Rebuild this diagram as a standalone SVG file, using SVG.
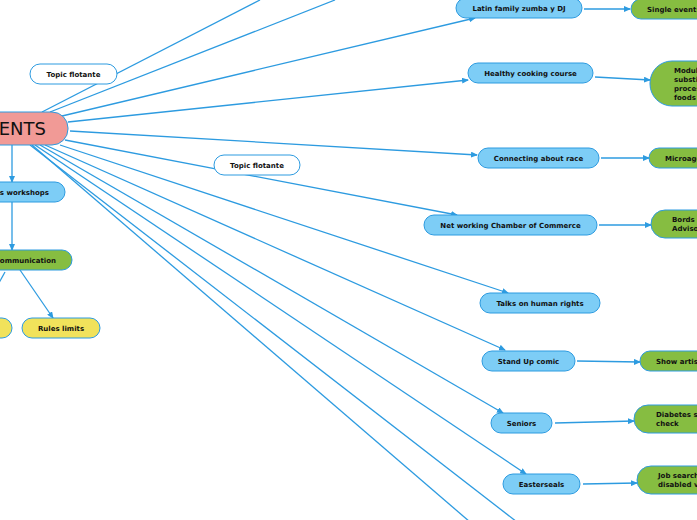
<svg xmlns="http://www.w3.org/2000/svg" width="697" height="520" viewBox="0 0 697 520">
<style>
text{font-family:"DejaVu Sans",sans-serif;font-size:7px;font-weight:bold;fill:#111;}
.b{fill:#7dcdf6;stroke:#2d9be0;stroke-width:1}
.g{fill:#86bd41;stroke:#2d9be0;stroke-width:1}
.y{fill:#f1e25b;stroke:#2d9be0;stroke-width:1}
.w{fill:#fff;stroke:#2d9be0;stroke-width:1}
.c line{stroke:#2d9be0;stroke-width:1.3}
.a{marker-end:url(#ar)}
</style>
<defs><marker id="ar" markerWidth="7" markerHeight="6" refX="6" refY="3" orient="auto" markerUnits="userSpaceOnUse"><path d="M0,0L7,3L0,6z" fill="#2d9be0"/></marker></defs>
<g class="c">
<line x1="42" y1="112" x2="260" y2="0"/>
<line x1="50" y1="112" x2="335" y2="0"/>
<line x1="62" y1="116" x2="475" y2="18" class="a"/>
<line x1="68" y1="122" x2="468" y2="80" class="a"/>
<line x1="70" y1="131" x2="477" y2="155" class="a"/>
<line x1="65" y1="140" x2="457" y2="215" class="a"/>
<line x1="60" y1="145" x2="508" y2="293" class="a"/>
<line x1="45" y1="145" x2="505" y2="350" class="a"/>
<line x1="40" y1="145" x2="503" y2="413" class="a"/>
<line x1="35" y1="145" x2="526" y2="474" class="a"/>
<line x1="32" y1="145" x2="470" y2="522"/>
<line x1="30" y1="145" x2="517" y2="522"/>
<line x1="12" y1="145" x2="12" y2="182" class="a"/>
<line x1="12" y1="202" x2="12" y2="250" class="a"/>
<line x1="20" y1="270" x2="53" y2="318" class="a"/>
<line x1="5" y1="272" x2="-5" y2="290"/>
<line x1="584" y1="9" x2="630" y2="9" class="a"/>
<line x1="595" y1="77" x2="650" y2="80" class="a"/>
<line x1="601" y1="158" x2="649" y2="158" class="a"/>
<line x1="599" y1="225" x2="651" y2="225" class="a"/>
<line x1="577" y1="361" x2="640" y2="362" class="a"/>
<line x1="555" y1="423" x2="634" y2="421" class="a"/>
<line x1="583" y1="484" x2="637" y2="483" class="a"/>
</g>
<g id="center"><rect x="-40" y="112" width="108" height="33" rx="16" fill="#f19a96" stroke="#2d9be0"/><text x="46" y="135" text-anchor="end" style="font-size:18px;font-weight:normal">EVENTS</text></g>
<g id="tf1"><rect class="w" x="30" y="64" width="87" height="20" rx="10"/><text x="73.5" y="77" text-anchor="middle">Topic flotante</text></g>
<g id="tf2"><rect class="w" x="214" y="155" width="86" height="20" rx="10"/><text x="257" y="168" text-anchor="middle">Topic flotante</text></g>
<g id="workshops"><rect class="b" x="-60" y="182" width="125" height="20" rx="10"/><text x="49" y="195" text-anchor="end">Wellness workshops</text></g>
<g id="comm"><rect class="g" x="-70" y="250" width="142" height="20" rx="10"/><text x="56" y="263" text-anchor="end">Communication</text></g>
<g id="y1"><rect class="y" x="-70" y="318" width="82" height="20" rx="10"/></g>
<g id="rules"><rect class="y" x="22" y="318" width="78" height="20" rx="10"/><text x="61" y="331" text-anchor="middle">Rules limits</text></g>
<g id="latin"><rect class="b" x="456" y="-2" width="126" height="20" rx="10"/><text x="519" y="11" text-anchor="middle">Latin family zumba y DJ</text></g>
<g id="single"><rect class="g" x="631" y="-1" width="90" height="20" rx="10"/><text x="647" y="12">Single events</text></g>
<g id="healthy"><rect class="b" x="468" y="63" width="125" height="20" rx="10"/><text x="530.5" y="76" text-anchor="middle">Healthy cooking course</text></g>
<g id="modules"><rect class="g" x="650" y="61" width="80" height="45" rx="22"/><text x="674" y="73">Modules<tspan x="674" dy="9">substitute</tspan><tspan x="674" dy="9">processed</tspan><tspan x="674" dy="9">foods</tspan></text></g>
<g id="race"><rect class="b" x="478" y="148" width="121" height="20" rx="10"/><text x="538.5" y="161" text-anchor="middle">Connecting about race</text></g>
<g id="micro"><rect class="g" x="649" y="148" width="90" height="20" rx="10"/><text x="665" y="161">Microaggressions</text></g>
<g id="net"><rect class="b" x="424" y="215" width="173" height="20" rx="10"/><text x="510.5" y="228" text-anchor="middle">Net working Chamber of Commerce</text></g>
<g id="bords"><rect class="g" x="651" y="210" width="80" height="28" rx="14"/><text x="672" y="222">Bords of<tspan x="672" dy="9">Advisors</tspan></text></g>
<g id="talks"><rect class="b" x="480" y="293" width="120" height="20" rx="10"/><text x="540" y="306" text-anchor="middle">Talks on human rights</text></g>
<g id="standup"><rect class="b" x="482" y="351" width="93" height="20" rx="10"/><text x="528.5" y="364" text-anchor="middle">Stand Up comic</text></g>
<g id="show"><rect class="g" x="640" y="351" width="90" height="20" rx="10"/><text x="656" y="364">Show artists</text></g>
<g id="seniors"><rect class="b" x="491" y="413" width="61" height="20" rx="10"/><text x="521.5" y="426" text-anchor="middle">Seniors</text></g>
<g id="diabetes"><rect class="g" x="634" y="405" width="90" height="28" rx="14"/><text x="656" y="417">Diabetes screening<tspan x="656" dy="9">check</tspan></text></g>
<g id="easter"><rect class="b" x="503" y="474" width="77" height="20" rx="10"/><text x="541.5" y="487" text-anchor="middle">Easterseals</text></g>
<g id="job"><rect class="g" x="637" y="466" width="90" height="28" rx="14"/><text x="658" y="478">Job search for<tspan x="658" dy="9">disabled veterans</tspan></text></g>
</svg>
